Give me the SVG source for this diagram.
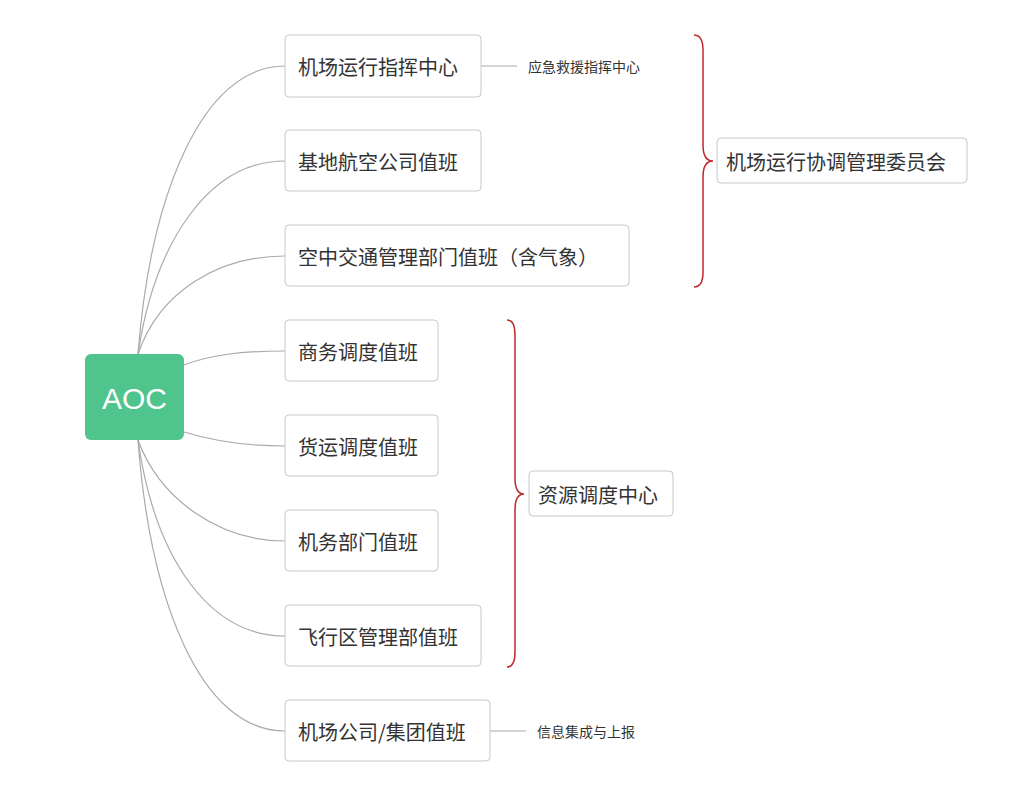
<svg xmlns="http://www.w3.org/2000/svg" width="1026" height="788" viewBox="0 0 1026 788">
<style>
.n{fill:#fff;stroke:#c8c8c8;stroke-width:1}
.t{font-family:"Noto Sans CJK SC","Liberation Sans",sans-serif;font-size:20px;fill:#333;dominant-baseline:central}
.s{font-family:"Noto Sans CJK SC","Liberation Sans",sans-serif;font-size:14px;fill:#333;dominant-baseline:central}
.c{fill:none;stroke:#aaa;stroke-width:1.2}
.b{fill:none;stroke:#c0282d;stroke-width:1.5}
</style>
<rect width="1026" height="788" fill="#fff"/>
<g id="connectors">
<path class="c" d="M138,354 C150,200 200,66 285,66"/>
<path class="c" d="M138,354 C155,240 210,161 285,161"/>
<path class="c" d="M138,354 C160,290 220,256 285,256"/>
<path class="c" d="M184,365 C210,355 240,351 285,351"/>
<path class="c" d="M184,432 C210,440 240,446 285,446"/>
<path class="c" d="M138,440 C160,500 220,541 285,541"/>
<path class="c" d="M138,440 C155,560 210,636 285,636"/>
<path class="c" d="M138,440 C150,600 200,731 285,731"/>
<path class="c" d="M481,66 H517"/>
<path class="c" d="M490,731 H526"/>
<path class="b" d="M694,35 Q703,35 703,50 L703,145 Q703,161 713,161 Q703,161 703,177 L703,272 Q703,287 694,287"/>
<path class="b" d="M507,320 Q515,320 515,335 L515,478 Q515,494 524,494 Q515,494 515,510 L515,652 Q515,667 507,667"/>
</g>
<g id="aoc"><rect x="85" y="354" width="99" height="86" rx="6" fill="#4fc48c"/><text x="134.5" y="398" text-anchor="middle" font-family="Liberation Sans,sans-serif" font-size="30" fill="#fff" dominant-baseline="central">AOC</text></g>
<g id="n1"><rect class="n" x="285" y="35" width="196" height="62" rx="4"/><text class="t" x="298" y="66">机场运行指挥中心</text></g>
<g id="n2"><rect class="n" x="285" y="130" width="196" height="61" rx="4"/><text class="t" x="298" y="161">基地航空公司值班</text></g>
<g id="n3"><rect class="n" x="285" y="225" width="344" height="61" rx="4"/><text class="t" x="298" y="256">空中交通管理部门值班（含气象）</text></g>
<g id="n4"><rect class="n" x="285" y="320" width="153" height="61" rx="4"/><text class="t" x="298" y="351">商务调度值班</text></g>
<g id="n5"><rect class="n" x="285" y="415" width="153" height="61" rx="4"/><text class="t" x="298" y="446">货运调度值班</text></g>
<g id="n6"><rect class="n" x="285" y="510" width="153" height="61" rx="4"/><text class="t" x="298" y="541">机务部门值班</text></g>
<g id="n7"><rect class="n" x="285" y="605" width="196" height="61" rx="4"/><text class="t" x="298" y="636">飞行区管理部值班</text></g>
<g id="n8"><rect class="n" x="285" y="700" width="205" height="61" rx="4"/><text class="t" x="298" y="731">机场公司/集团值班</text></g>
<g id="l1"><text class="s" x="528" y="66">应急救援指挥中心</text></g>
<g id="l2"><text class="s" x="537" y="731">信息集成与上报</text></g>
<g id="g1"><rect class="n" x="717" y="138" width="250" height="45" rx="4"/><text class="t" x="726" y="161">机场运行协调管理委员会</text></g>
<g id="g2"><rect class="n" x="529" y="471" width="144" height="45" rx="4"/><text class="t" x="538" y="494">资源调度中心</text></g>
</svg>
